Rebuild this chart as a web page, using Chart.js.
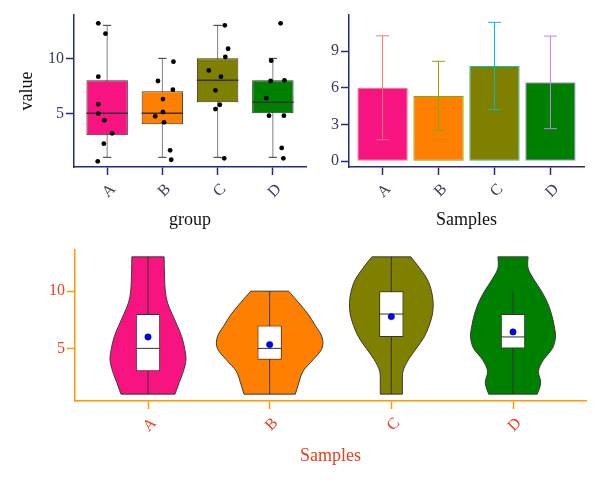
<!DOCTYPE html>
<html>
<head>
<meta charset="utf-8">
<script src="https://cdn.jsdelivr.net/npm/chart.js@4.4.0/dist/chart.umd.min.js"></script>
<style>
  body { margin: 0; background: #fff; }
  #wrap { position: relative; width: 600px; height: 481px; }
  canvas { position: absolute; }
</style>
</head>
<body>
<div id="wrap">
  <canvas id="boxChart" width="310" height="232" style="left:0;top:0"></canvas>
  <canvas id="barChart" width="290" height="232" style="left:310px;top:0"></canvas>
  <canvas id="violinChart" width="600" height="249" style="left:0;top:232px"></canvas>
</div>
<script>
// ---- data ----
const groups = ["A", "B", "C", "D"];

// boxplot summary per group
const whiskerLow = [1, 1, 1, 1];
const q1 = [3, 4, 6, 5];
const medians = [5, 5, 8, 6];
const q3 = [8, 7, 10, 8];
const whiskerHigh = [13, 10, 13, 10];

// jittered raw points: [offset from group, value]
const pointsA = [[-0.16, 13.18], [-0.03, 12.24], [-0.16, 8.33], [-0.16, 5.82], [-0.16, 4.97], [-0.05, 4.36], [0.09, 3.18], [-0.06, 2.24], [-0.17, 0.64]];
const pointsB = [[-0.08, 7.94], [0.2, 9.7], [0.01, 6.3], [0.19, 7.15], [-0.13, 4.73], [0.01, 5.12], [0.03, 4.18], [0.14, 1.64], [0.16, 0.78]];
const pointsC = [[0.13, 13.0], [0.19, 10.87], [0.14, 10.12], [-0.16, 8.9], [0.06, 8.33], [-0.04, 7.09], [0.04, 5.78], [-0.04, 5.39], [0.12, 0.91]];
const pointsD = [[0.14, 13.18], [-0.03, 9.79], [-0.04, 7.94], [0.21, 8.0], [-0.12, 6.39], [-0.07, 4.79], [0.2, 4.79], [0.16, 1.85], [0.19, 0.91]];

// mean +/- sd bars
const means = [6.0, 5.33, 7.78, 6.44];
const sds = [4.24, 2.83, 3.56, 3.78];

// violin half widths (in group units) at each level
const densityLevels = [1, 2, 3, 4, 5, 6, 7, 8, 9, 10, 11, 12, 13];
const densityA = [0.222, 0.256, 0.291, 0.312, 0.301, 0.278, 0.24, 0.198, 0.16, 0.142, 0.137, 0.134, 0.133];
const densityB = [0.211, 0.24, 0.274, 0.356, 0.43, 0.43, 0.375, 0.315, 0.238, 0.156];
const densityC = [0.091, 0.091, 0.096, 0.14, 0.206, 0.27, 0.311, 0.338, 0.344, 0.33, 0.297, 0.234, 0.16];
const densityD = [0.2, 0.228, 0.209, 0.25, 0.324, 0.349, 0.338, 0.316, 0.283, 0.234, 0.173, 0.124, 0.124];

const boxTicks = [5, 10];
const barTicks = [0, 3, 6, 9];
const violinTicks = [5, 10];

// ---- styles ----
const fills = ["#F81480", "#FF8000", "#808000", "#008000"];
const outlines = ["#F8766D", "#7CAE00", "#00BFC4", "#C77CFF"];
const navy = "#232d7c";
const navyText = "#363d5c";
const orange = "#FF9A00";
const orangeText = "#E6401C";

Chart.defaults.font.family = "'Liberation Serif', serif";
Chart.defaults.animation = false;

function axisX(o) {
  return {
    type: "linear", min: -0.6, max: 3.6, offset: false,
    afterBuildTicks: s => { s.ticks = groups.map((g, i) => ({ value: i })); },
    afterFit: s => { s.height = o.height; },
    border: { display: true, color: o.line, width: 1.5 },
    grid: { drawOnChartArea: false, offset: false, tickLength: 8, tickColor: o.line, tickWidth: 1.5 },
    ticks: { color: o.text, font: { size: 16 }, minRotation: 45, maxRotation: 45, autoSkip: false,
             padding: 5, labelOffset: 6, callback: v => groups[v] },
    title: { display: true, text: o.title, color: o.titleColor, font: { size: 18 }, padding: { top: 0, bottom: o.titlePad } }
  };
}

function axisY(o) {
  return {
    type: "linear", min: o.min, max: o.max,
    afterBuildTicks: s => { s.ticks = o.ticks.map(v => ({ value: v })); },
    afterFit: s => { s.width = o.width; },
    border: { display: true, color: o.line, width: 1.5 },
    grid: { drawOnChartArea: false, tickLength: 8, tickColor: o.line, tickWidth: 1.5 },
    ticks: { color: o.text, font: { size: 16 }, padding: 2, callback: v => String(v) },
    title: o.title ? { display: true, text: o.title, color: "#111", font: { size: 18 }, padding: { top: 16, bottom: 0 } }
                   : { display: false }
  };
}

function drawMedians(chart, meta) {
  const { ctx, scales: { y } } = chart;
  ctx.save();
  ctx.strokeStyle = "#333";
  ctx.lineWidth = meta.lineWidth;
  meta.data.forEach((bar, i) => {
    const py = y.getPixelForValue(medians[i]);
    ctx.beginPath();
    ctx.moveTo(bar.x - bar.width / 2, py);
    ctx.lineTo(bar.x + bar.width / 2, py);
    ctx.stroke();
  });
  ctx.restore();
}

// ---- top left: boxplot with jitter ----
const boxParts = {
  id: "boxParts",
  beforeDatasetsDraw(chart) {
    const { ctx, scales: { x, y } } = chart;
    ctx.save();
    ctx.lineWidth = 1;
    groups.forEach((g, i) => {
      const cx = x.getPixelForValue(i);
      const lo = y.getPixelForValue(whiskerLow[i]);
      const hi = y.getPixelForValue(whiskerHigh[i]);
      ctx.strokeStyle = "#808080";
      ctx.beginPath(); ctx.moveTo(cx, lo); ctx.lineTo(cx, hi); ctx.stroke();
      const half = x.getPixelForValue(i + 0.075) - cx;
      ctx.strokeStyle = "#333";
      [lo, hi].forEach(py => {
        ctx.beginPath(); ctx.moveTo(cx - half, py); ctx.lineTo(cx + half, py); ctx.stroke();
      });
    });
    ctx.restore();
  },
  afterDatasetDraw(chart, args) {
    if (args.index === 1) drawMedians(chart, { data: args.meta.data, lineWidth: 1.5 });
  }
};

const jitter = [pointsA, pointsB, pointsC, pointsD].flatMap((pts, i) =>
  pts.map(([dx, v]) => ({ x: i + dx, y: v })));

new Chart(document.getElementById("boxChart"), {
  type: "bar",
  data: {
    datasets: [
      { type: "scatter", data: jitter, backgroundColor: "#000", borderWidth: 0, pointRadius: 2.4 },
      {
        data: groups.map((g, i) => ({ x: i, y: [q1[i], q3[i]] })),
        backgroundColor: fills, borderColor: "#333", borderWidth: 1, borderSkipped: false,
        barPercentage: 0.75, categoryPercentage: 1
      }
    ]
  },
  options: {
    responsive: false,
    layout: { padding: { top: 15, right: 1, left: 0, bottom: 0 } },
    plugins: { legend: { display: false }, tooltip: { enabled: false } },
    scales: {
      x: axisX({ height: 65, line: navy, text: navyText, title: "group", titleColor: "#111", titlePad: 1 }),
      y: axisY({ min: 0.12, max: 13.94, ticks: boxTicks, width: 74, line: navy, text: navyText, title: "value" })
    }
  },
  plugins: [boxParts]
});

// ---- top right: mean bars with sd ----
const errorBars = {
  id: "errorBars",
  afterDatasetsDraw(chart) {
    const { ctx, scales: { x, y } } = chart;
    ctx.save();
    ctx.lineWidth = 1;
    groups.forEach((g, i) => {
      const cx = x.getPixelForValue(i);
      const lo = y.getPixelForValue(means[i] - sds[i]);
      const hi = y.getPixelForValue(means[i] + sds[i]);
      const half = x.getPixelForValue(i + 0.115) - cx;
      ctx.strokeStyle = outlines[i];
      ctx.beginPath();
      ctx.moveTo(cx, lo); ctx.lineTo(cx, hi);
      ctx.moveTo(cx - half, lo); ctx.lineTo(cx + half, lo);
      ctx.moveTo(cx - half, hi); ctx.lineTo(cx + half, hi);
      ctx.stroke();
    });
    ctx.restore();
  }
};

new Chart(document.getElementById("barChart"), {
  type: "bar",
  data: {
    datasets: [{
      data: groups.map((g, i) => ({ x: i, y: means[i] })),
      backgroundColor: fills, borderColor: outlines, borderWidth: 1, borderSkipped: false,
      barPercentage: 0.9, categoryPercentage: 1
    }]
  },
  options: {
    responsive: false,
    layout: { padding: { top: 15, right: 16, left: 0, bottom: 0 } },
    plugins: { legend: { display: false }, tooltip: { enabled: false } },
    scales: {
      x: axisX({ height: 65, line: navy, text: navyText, title: "Samples", titleColor: "#111", titlePad: 1 }),
      y: axisY({ min: -0.47, max: 11.94, ticks: barTicks, width: 39, line: navy, text: navyText })
    }
  },
  plugins: [errorBars]
});

// ---- bottom: violins with inner boxes ----
function smoothThrough(ctx, pts, first) {
  if (first) ctx.moveTo(pts[0][0], pts[0][1]); else ctx.lineTo(pts[0][0], pts[0][1]);
  for (let k = 0; k < pts.length - 1; k++) {
    const p0 = pts[Math.max(k - 1, 0)], p1 = pts[k], p2 = pts[k + 1], p3 = pts[Math.min(k + 2, pts.length - 1)];
    ctx.bezierCurveTo(
      p1[0] + (p2[0] - p0[0]) / 6, p1[1] + (p2[1] - p0[1]) / 6,
      p2[0] - (p3[0] - p1[0]) / 6, p2[1] - (p3[1] - p1[1]) / 6,
      p2[0], p2[1]);
  }
}

const violinParts = {
  id: "violinParts",
  beforeDatasetsDraw(chart) {
    const { ctx, scales: { x, y } } = chart;
    ctx.save();
    [densityA, densityB, densityC, densityD].forEach((dens, i) => {
      const right = dens.map((w, k) => [x.getPixelForValue(i + w), y.getPixelForValue(densityLevels[k])]);
      const left = dens.map((w, k) => [x.getPixelForValue(i - w), y.getPixelForValue(densityLevels[k])]).reverse();
      ctx.beginPath();
      smoothThrough(ctx, right, true);
      smoothThrough(ctx, left, false);
      ctx.closePath();
      ctx.fillStyle = fills[i];
      ctx.fill();
      ctx.strokeStyle = "#3a3a3a";
      ctx.lineWidth = 1;
      ctx.stroke();
      const cx = x.getPixelForValue(i);
      ctx.beginPath();
      ctx.moveTo(cx, y.getPixelForValue(whiskerLow[i]));
      ctx.lineTo(cx, y.getPixelForValue(whiskerHigh[i]));
      ctx.strokeStyle = "#333";
      ctx.stroke();
    });
    ctx.restore();
  },
  afterDatasetDraw(chart, args) {
    if (args.index === 1) drawMedians(chart, { data: args.meta.data, lineWidth: 1 });
  }
};

new Chart(document.getElementById("violinChart"), {
  type: "bar",
  data: {
    datasets: [
      { type: "scatter", data: groups.map((g, i) => ({ x: i, y: means[i] })),
        backgroundColor: "#0000FF", borderColor: "#00008B", borderWidth: 0.5, pointRadius: 3.2 },
      {
        data: groups.map((g, i) => ({ x: i, y: [q1[i], q3[i]] })),
        backgroundColor: "#fff", borderColor: "#333", borderWidth: 1, borderSkipped: false,
        barPercentage: 0.2, categoryPercentage: 1
      }
    ]
  },
  options: {
    responsive: false,
    layout: { padding: { top: 18, right: 14, left: 0, bottom: 0 } },
    plugins: { legend: { display: false }, tooltip: { enabled: false } },
    scales: {
      x: axisX({ height: 80, line: orange, text: orangeText, title: "Samples", titleColor: orangeText, titlePad: 14 }),
      y: axisY({ min: 0.4, max: 13.6, ticks: violinTicks, width: 75, line: orange, text: orangeText })
    }
  },
  plugins: [violinParts]
});
</script>
</body>
</html>
